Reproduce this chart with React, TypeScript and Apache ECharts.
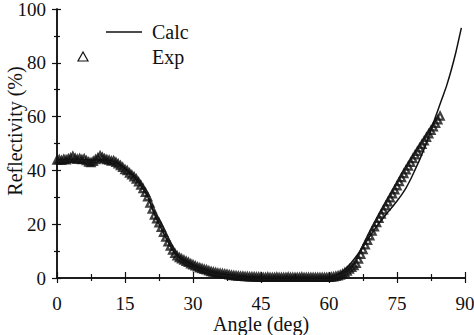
import React, { useEffect, useRef } from "react";
import * as echarts from "echarts";

// Experimental reflectivity (%) sampled every 0.5 deg starting at 0 deg
const expStart = 0;
const expStep = 0.5;
const expValues = [
  43.8, 44.0, 43.7, 44.1, 43.9, 44.3, 44.6, 45.2, 44.5, 44.1,
  44.4, 44.0, 44.3, 43.6, 43.1, 42.9, 43.4, 44.0, 44.6, 45.4,
  44.9, 44.3, 44.0, 43.8, 43.5, 43.6, 43.0, 42.4, 41.8, 41.1,
  40.3, 39.9, 39.0, 38.3, 37.6, 36.8, 35.7, 34.5, 33.2, 31.8,
  30.2, 27.8, 25.6, 23.4, 22.0, 20.5, 18.8, 17.0, 15.2, 13.4,
  11.9, 10.4, 9.2, 8.2, 7.6, 7.1, 6.7, 6.2, 5.8, 5.3,
  4.9, 4.5, 4.1, 3.8, 3.5, 3.2, 3.0, 2.7, 2.4, 2.2,
  2.0, 1.8, 1.7, 1.6, 1.5, 1.4, 1.2, 1.0, 0.9, 0.8,
  0.7, 0.6, 0.6, 0.5, 0.5, 0.4, 0.4, 0.4, 0.3, 0.3,
  0.3, 0.2, 0.2, 0.3, 0.2, 0.2, 0.2, 0.3, 0.2, 0.2,
  0.2, 0.2, 0.3, 0.2, 0.2, 0.2, 0.2, 0.2, 0.3, 0.2,
  0.2, 0.2, 0.2, 0.2, 0.2, 0.2, 0.2, 0.2, 0.2, 0.2,
  0.2, 0.3, 0.4, 0.6, 0.8, 1.1, 1.5, 2.0, 2.6, 3.3,
  4.0, 4.6, 5.4, 7.0, 8.8, 10.6, 12.3, 14.0, 15.7, 17.4,
  19.0, 20.6, 22.2, 23.8, 25.3, 26.8, 28.3, 29.8, 31.3, 32.8,
  34.3, 35.8, 37.3, 38.8, 40.2, 41.6, 43.0, 44.4, 45.8, 47.1,
  48.4, 49.7, 51.0, 52.3, 53.6, 54.9, 56.2, 57.5, 58.8, 60.2,
];

// Calculated reflectivity curve
const calcAngles = [
  0, 2, 4, 6, 8, 10, 12, 13, 14, 15, 16, 17, 18, 19, 20, 21, 22, 23, 24, 25,
  26, 27, 28, 29, 30, 32, 34, 36, 38, 40, 45, 50, 55, 59, 60, 61, 62, 63, 64,
  65, 66, 67, 68, 69, 70, 71, 72, 73, 74, 75, 76, 77, 78, 79, 80, 81, 82, 83,
  84, 85, 86, 87, 88, 89, 89.2,
];
const calcValues = [
  44.0, 44.1, 44.2, 44.0, 43.9, 43.9, 43.5, 43.0, 42.0, 40.7, 39.2, 37.5, 35.4,
  33.0, 30.2, 25.8, 21.8, 18.4, 15.0, 11.8, 9.2, 7.5, 6.6, 5.7, 4.8, 3.4, 2.3,
  1.6, 1.1, 0.7, 0.3, 0.2, 0.1, 0.2, 0.3, 0.7, 1.4, 2.5, 4.0, 5.9, 8.0, 10.4,
  12.9, 15.5, 18.0, 20.3, 22.4, 24.5, 26.5, 28.6, 30.9, 33.5, 36.7, 40.3, 44.0,
  48.1, 52.6, 57.5, 62.3, 67.0, 71.8, 77.5, 84.0, 91.5, 93.0,
];

const xTicks = [0, 15, 30, 45, 60, 75, 90];
const yTicks = [0, 20, 40, 60, 80, 100];

const FONT = "'Liberation Serif', 'DejaVu Serif', serif";
const INK = "#111";

export default function App() {
  const ref = useRef<HTMLDivElement>(null);
  useEffect(() => {
    if (!ref.current) return;
    const chart = echarts.init(ref.current, null, { renderer: "svg" });
    const expData = expValues.map((v, i) => [expStart + i * expStep, v]);
    const calcData = calcAngles.map((a, i) => [a, calcValues[i]]);
    const axisLine = { show: true, lineStyle: { color: INK, width: 1.5 } };
    const xMin = xTicks[0];
    const xMax = xTicks[xTicks.length - 1];
    const xInt = xTicks[1] - xTicks[0];
    const yMin = yTicks[0];
    const yMax = yTicks[yTicks.length - 1];
    const yInt = yTicks[1] - yTicks[0];
    chart.setOption({
      animation: false,
      backgroundColor: "#fff",
      textStyle: { fontFamily: FONT, color: INK },
      grid: {
        left: 57,
        top: 9,
        width: 408,
        height: 269,
        containLabel: false,
        outerBoundsMode: "none",
      },
      xAxis: [
        {
          type: "value",
          min: xMin,
          max: xMax,
          interval: xInt,
          position: "bottom",
          name: "Angle (deg)",
          nameLocation: "middle",
          nameGap: 37,
          nameMoveOverlap: false,
          nameTextStyle: { fontFamily: FONT, fontSize: 20, lineHeight: 18, color: INK },
          axisLine,
          axisTick: { show: true, length: 5, lineStyle: { color: INK, width: 1.2 } },
          minorTick: { show: true, splitNumber: 2, length: 3, lineStyle: { color: INK, width: 1.2 } },
          axisLabel: {
            fontFamily: FONT,
            fontSize: 19,
            lineHeight: 15,
            color: INK,
            margin: 14,
            verticalAlign: "top",
            padding: [4, 0, 0, 0],
          },
          splitLine: { show: false },
        },
        {
          type: "value",
          min: xMin,
          max: xMax,
          interval: xInt,
          position: "top",
          axisLine,
          axisTick: { show: true, length: 6, lineStyle: { color: INK, width: 1.2 } },
          minorTick: { show: true, splitNumber: 2, length: 4, lineStyle: { color: INK, width: 1.2 } },
          axisLabel: { show: false },
          splitLine: { show: false },
        },
      ],
      yAxis: [
        {
          type: "value",
          min: yMin,
          max: yMax,
          interval: yInt,
          position: "left",
          name: "Reflectivity (%)",
          nameLocation: "middle",
          nameGap: 32,
          nameMoveOverlap: false,
          nameTextStyle: { fontFamily: FONT, fontSize: 20, color: INK, padding: [0, 0, 0, 25] },
          axisLine,
          axisTick: { show: true, length: 5, lineStyle: { color: INK, width: 1.2 } },
          minorTick: { show: true, splitNumber: 2, length: 3, lineStyle: { color: INK, width: 1.2 } },
          axisLabel: { fontFamily: FONT, fontSize: 19, color: INK, margin: 11 },
          splitLine: { show: false },
        },
        {
          type: "value",
          min: yMin,
          max: yMax,
          interval: yInt,
          position: "right",
          axisLine,
          axisTick: { show: true, length: 4, lineStyle: { color: INK, width: 1.2 } },
          minorTick: { show: true, splitNumber: 2, length: 3, lineStyle: { color: INK, width: 1.2 } },
          axisLabel: { show: false },
          splitLine: { show: false },
        },
      ],
      graphic: [
        { type: "line", shape: { x1: 106, y1: 32, x2: 142, y2: 32 }, style: { stroke: INK, lineWidth: 1.5 } },
        { type: "text", left: 152, top: 22, style: { text: "Calc", font: `20px ${FONT}`, fill: INK } },
        { type: "polygon", shape: { points: [[83, 52], [78, 61], [88, 61]] }, style: { fill: "none", stroke: INK, lineWidth: 1.2 } },
        { type: "text", left: 152, top: 47, style: { text: "Exp", font: `20px ${FONT}`, fill: INK } },
      ],
      series: [
        {
          name: "Exp",
          type: "scatter",
          data: expData,
          symbol: "triangle",
          symbolSize: 7,
          itemStyle: { color: "rgba(0,0,0,0)", borderColor: INK, borderWidth: 2.3 },
          silent: true,
          z: 2,
        },
        {
          name: "Calc",
          type: "line",
          data: calcData,
          smooth: 0.3,
          showSymbol: false,
          lineStyle: { color: INK, width: 1.5 },
          z: 3,
        },
      ],
    });
    return () => chart.dispose();
  }, []);
  return (
    <div
      ref={ref}
      style={{ position: "fixed", left: 0, top: 0, width: 474, height: 335, background: "#fff" }}
    />
  );
}
